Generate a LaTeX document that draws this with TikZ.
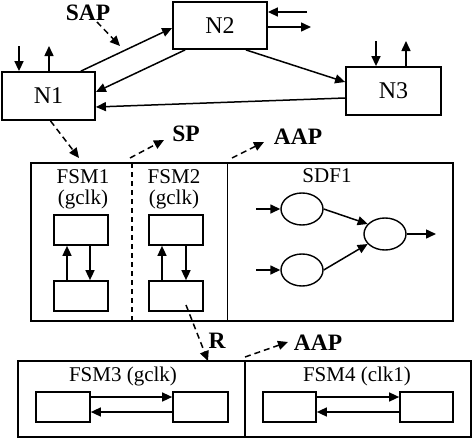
\documentclass[tikz,border=0pt]{standalone}
\usepackage{fontspec}
\setmainfont{Liberation Serif}
\usetikzlibrary{arrows.meta,shapes.geometric}
\begin{document}
\begin{tikzpicture}[x=1pt,y=-1pt,
  box/.style={draw,line width=1.8pt,inner sep=0pt,rectangle},
  sbox/.style={draw,line width=1.7pt,inner sep=0pt,rectangle,minimum width=54pt,minimum height=30pt},
  ell/.style={draw,line width=1.4pt,ellipse,inner sep=0pt,minimum width=42pt,minimum height=32pt},
  arr/.style={line width=1.5pt,-{Triangle[length=10pt,width=9pt]}},
  darr/.style={line width=1.5pt,dash pattern=on 6pt off 4pt,-{Triangle[length=10pt,width=9pt]}},
  nlab/.style={font=\fontsize{24}{26}\selectfont},
  flab/.style={font=\fontsize{21}{24}\selectfont,inner sep=0pt},
  blab/.style={font=\fontsize{23.5}{26}\selectfont\bfseries,inner sep=0pt}]
\useasboundingbox (0,0) rectangle (474,439);

% top graph nodes
\node[box,minimum width=93pt,minimum height=48pt,nlab] (N1) at (48.5,96) {N1};
\node[box,minimum width=94pt,minimum height=47pt,nlab] (N2) at (220,25.5) {N2};
\node[box,minimum width=95pt,minimum height=48pt,nlab] (N3) at (393.5,91) {N3};

\draw[arr] ([xshift=-15pt]N1.north east) -- ([yshift=-2.5pt]N2.west);
\draw[arr] ([xshift=13pt]N2.south west) -- ([yshift=4pt]N1.east);
\draw[arr] ([xshift=-22pt]N2.south east) -- ([yshift=9pt]N3.west);
\draw[arr] ([yshift=-7pt]N3.west) -- ([yshift=-11pt]N1.east);

% I/O arrows
\coordinate (n1i) at (19,46);
\coordinate (n1o) at (49,46);
\draw[arr] (n1i) -- (n1i |- N1.north);
\draw[arr] (n1o |- N1.north) -- (n1o);
\coordinate (n2i) at (307,12);
\coordinate (n2o) at (311,27);
\draw[arr] (n2i) -- (n2i -| N2.east);
\draw[arr] (n2o -| N2.east) -- (n2o);
\coordinate (n3i) at (376,41);
\coordinate (n3o) at (406,41);
\draw[arr] (n3i) -- (n3i |- N3.north);
\draw[arr] (n3o |- N3.north) -- (n3o);

% SAP
\node[blab] (SAP) at (88,13) {SAP};
\coordinate (sapa) at (97,22);
\coordinate (sapb) at (120,46);
\draw[darr] (sapa) -- (sapb);

% middle box
\node[box,minimum width=422pt,minimum height=158pt] (mid) at (242,242) {};
\coordinate (d1t) at (132,163);
\coordinate (d2t) at (227.5,163);
\draw[line width=1.5pt,dash pattern=on 5pt off 4pt] (d1t) -- (d1t |- mid.south);
\draw[line width=1.8pt] (d2t) -- (d2t |- mid.south);

\coordinate (n1m) at (79,158);
\draw[darr] ([xshift=2pt]N1.south) -- (n1m);

\coordinate (spa) at (130,158);
\coordinate (spb) at (164,140);
\draw[darr] (spa) -- (spb);
\node[blab] (SP) at (186,134) {SP};

\coordinate (apa) at (232,158);
\coordinate (apb) at (264,142);
\draw[darr] (apa) -- (apb);
\node[blab] (AAP1) at (298,137) {AAP};

% FSM1 / FSM2
\node[flab] (f1l) at (83,177) {FSM1};
\node[flab] (f1g) at (83,199) {(gclk)};
\node[flab] (f2l) at (174,177) {FSM2};
\node[flab] (f2g) at (174,199) {(gclk)};

\node[sbox] (f1a) at (81,230) {};
\node[sbox] (f1b) at (81,296) {};
\node[sbox] (f2a) at (176,230) {};
\node[sbox] (f2b) at (176,296) {};
\draw[arr] ([xshift=-14pt]f1b.north) -- ([xshift=-14pt]f1a.south);
\draw[arr] ([xshift=9pt]f1a.south) -- ([xshift=9pt]f1b.north);
\draw[arr] ([xshift=-14pt]f2b.north) -- ([xshift=-14pt]f2a.south);
\draw[arr] ([xshift=10pt]f2a.south) -- ([xshift=10pt]f2b.north);

% SDF1
\node[flab] (sdf) at (327,176) {SDF1};
\node[ell] (e1) at (302,209) {};
\node[ell] (e2) at (302,270) {};
\node[ell] (e3) at (385,234) {};
\coordinate (e1i) at (256,209);
\coordinate (e2i) at (256,270);
\coordinate (e3o) at (436,234);
\draw[arr] (e1i) -- (e1.west);
\draw[arr] (e2i) -- (e2.west);
\draw[arr] (e3.east) -- (e3o);
\draw[arr] (e1.east) -- (e3.150);
\draw[arr] (e2.east) -- (e3.210);

% R and AAP bottom
\coordinate (ra) at (186,305);
\coordinate (rb) at (208,361);
\draw[darr] (ra) -- (rb);
\node[blab] (R) at (217,341) {R};
\coordinate (aba) at (245,357);
\coordinate (abb) at (288,342);
\draw[darr] (aba) -- (abb);
\node[blab] (AAP2) at (318,343) {AAP};

% bottom box
\node[box,minimum width=453pt,minimum height=76pt] (bot) at (244.5,399) {};
\coordinate (d3t) at (245,361);
\draw[line width=1.8pt] (d3t) -- (d3t |- bot.south);
\node[flab] (f3l) at (123,376) {FSM3 (gclk)};
\node[flab] (f4l) at (357,376) {FSM4 (clk1)};

\node[sbox] (f3a) at (63,407) {};
\node[sbox,minimum width=55pt] (f3b) at (200.5,407) {};
\node[sbox,minimum width=53pt] (f4a) at (289.5,407) {};
\node[sbox,minimum width=53pt] (f4b) at (426.5,407) {};
\draw[arr] ([yshift=10pt]f3a.east) -- ([yshift=10pt]f3b.west);
\draw[arr] ([yshift=-5pt]f3b.west) -- ([yshift=-5pt]f3a.east);
\draw[arr] ([yshift=10pt]f4a.east) -- ([yshift=10pt]f4b.west);
\draw[arr] ([yshift=-5pt]f4b.west) -- ([yshift=-5pt]f4a.east);
\end{tikzpicture}
\end{document}
